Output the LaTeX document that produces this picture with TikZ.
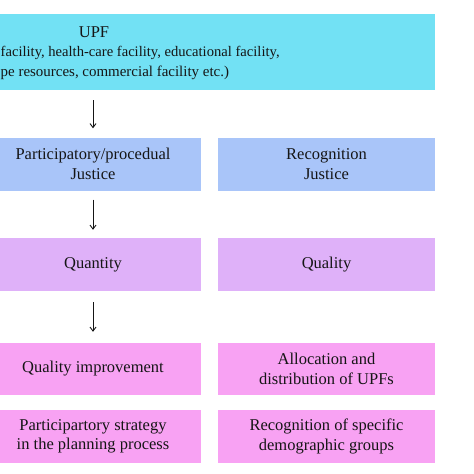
\documentclass[tikz,border=0pt]{standalone}
\usepackage{fontspec}
\setmainfont{Liberation Serif}
\usetikzlibrary{arrows.meta}
\definecolor{cyanbox}{HTML}{72E1F4}
\definecolor{bluebox}{HTML}{A9C5F9}
\definecolor{purplebox}{HTML}{DFB1F9}
\definecolor{pinkbox}{HTML}{F8A2F3}
\definecolor{txt}{HTML}{151515}
\begin{document}
\begin{tikzpicture}[x=1pt,y=-1pt,
  box/.style={minimum width=216pt, minimum height=53pt, inner sep=0pt, align=center,
    text=txt, font=\fontsize{16.5}{19.5}\selectfont},
  toptxt/.style={inner sep=0pt, text=txt},
  arr/.style={draw=txt, line width=0.9pt, -{Straight Barb[length=4pt,width=6pt]}}]
\useasboundingbox (0,0) rectangle (474,474);
\clip (0,0) rectangle (474,474);
\fill[white] (0,0) rectangle (474,474);
% top box
\node[fill=cyanbox, minimum width=450pt, minimum height=76pt, inner sep=0pt] (upf) at (210,52) {};
\node[toptxt, font=\fontsize{16.5}{19}\selectfont] (upft) at (94,32) {UPF};
\node[toptxt, anchor=west, font=\fontsize{14.6}{18}\selectfont] (l2) at (0.5,53) {facility, health-care facility, educational facility,};
\node[toptxt, anchor=west, font=\fontsize{14.95}{18}\selectfont] (l3) at (0.5,72.5) {pe resources, commercial facility etc.)};
% row 2
\node[box, fill=bluebox] (pj) at (93,164) {Participatory/procedual\\Justice};
\node[box, fill=bluebox, minimum width=217pt] (rj) at (326.5,164) {Recognition\\Justice};
% row 3
\node[box, fill=purplebox] (qn) at (93,264.5) {Quantity};
\node[box, fill=purplebox, minimum width=217pt] (ql) at (326.5,264.5) {Quality};
% row 4
\node[box, fill=pinkbox, minimum height=52pt] (qi) at (93,369) {Quality improvement};
\node[box, fill=pinkbox, minimum width=217pt, minimum height=52pt] (ad) at (326.5,369) {Allocation and\\distribution of UPFs};
% row 5
\node[box, fill=pinkbox] (ps) at (93,436.5) {Participartory strategy\\in the planning process};
\node[box, fill=pinkbox, minimum width=217pt] (rs) at (326.5,436.5) {Recognition of specific\\demographic groups};
% arrows
\draw[arr, shorten <=10pt, shorten >=9pt] (pj.north |- upf.south) -- (pj.north);
\draw[arr, shorten <=9pt, shorten >=8pt] (pj.south) -- (qn.north);
\draw[arr, shorten <=11pt, shorten >=11pt] (qn.south) -- (qi.north);
\end{tikzpicture}
\end{document}
